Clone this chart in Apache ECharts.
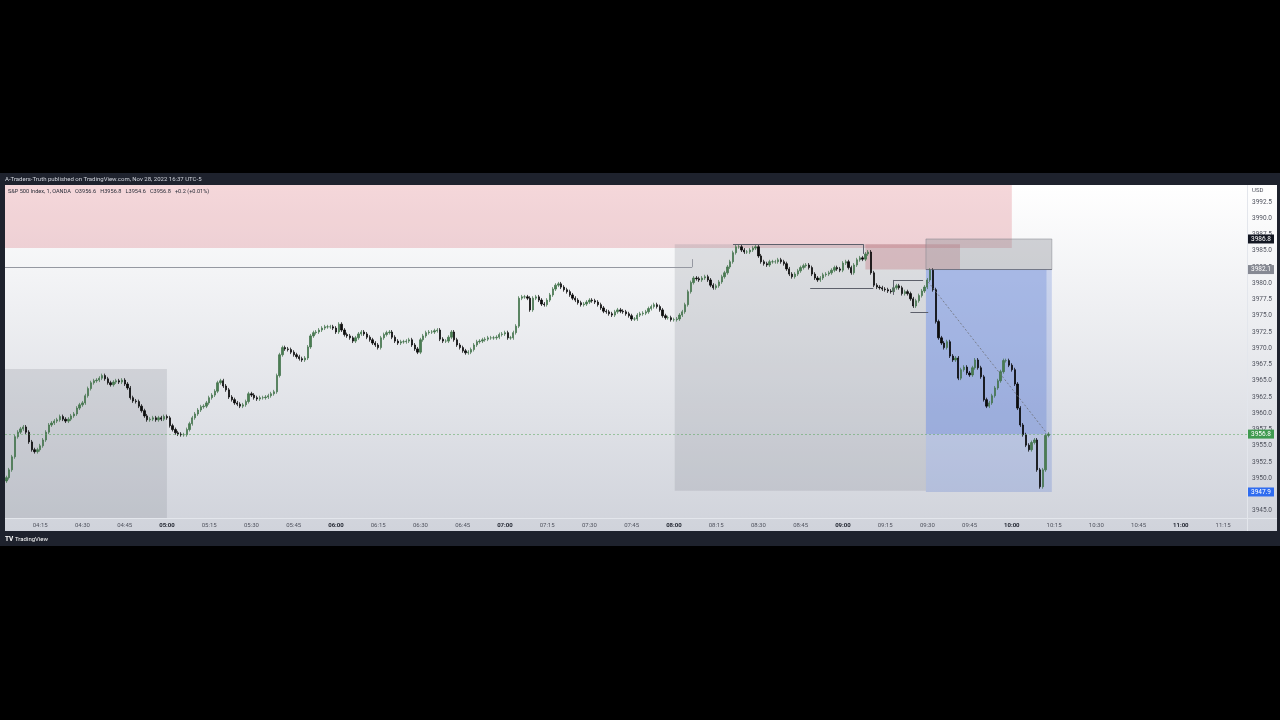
<!DOCTYPE html>
<html>
<head>
<meta charset="utf-8">
<title>S&amp;P 500 Index, 1, OANDA</title>
<script src="https://cdn.jsdelivr.net/npm/echarts@6.0.0/dist/echarts.min.js"></script>
<style>
  html, body { margin: 0; padding: 0; background: #000; }
  #chart { width: 1280px; height: 720px; }
</style>
</head>
<body>
<div id="chart"></div>
<script>
// ---------- data ----------
const startMinute = 243;          // first bar 04:03 (minutes after midnight)
const firstOpen = 3949.6;
const closes = [
  3950.1, 3951.3, 3953.3, 3956.4, 3957.1, 3957.6, 3957.9, 3957.1, 3955.6, 3954.4,
  3954.1, 3954.4, 3955.0, 3955.9, 3957.1, 3958.2, 3958.5, 3958.8, 3959.0, 3959.5,
  3959.1, 3958.8, 3959.1, 3959.6, 3959.9, 3960.8, 3961.3, 3961.6, 3962.7, 3963.8,
  3964.7, 3965.0, 3965.1, 3965.4, 3965.8, 3965.3, 3964.7, 3964.4, 3964.8, 3965.0,
  3964.8, 3965.1, 3964.5, 3963.9, 3962.4, 3961.9, 3961.8, 3961.1, 3960.4, 3959.6,
  3959.0, 3959.1, 3959.3, 3959.0, 3959.3, 3959.1, 3959.5, 3959.3, 3958.1, 3957.5,
  3957.0, 3956.8, 3956.7, 3956.7, 3957.5, 3958.4, 3959.3, 3959.9, 3960.5, 3961.0,
  3961.1, 3961.6, 3962.4, 3962.8, 3963.4, 3964.7, 3965.0, 3964.2, 3963.6, 3962.5,
  3962.1, 3961.6, 3961.4, 3961.1, 3961.3, 3961.8, 3963.0, 3962.8, 3962.4, 3962.2,
  3962.4, 3962.4, 3962.5, 3962.7, 3963.0, 3963.3, 3965.8, 3969.0, 3970.1, 3969.9,
  3969.8, 3969.4, 3969.0, 3968.7, 3968.4, 3968.2, 3968.5, 3970.2, 3971.9, 3972.4,
  3972.5, 3972.8, 3973.1, 3973.3, 3973.3, 3973.3, 3973.1, 3972.5, 3973.7, 3972.8,
  3972.1, 3971.9, 3971.6, 3971.1, 3971.6, 3972.2, 3972.5, 3972.2, 3971.7, 3971.3,
  3970.8, 3970.5, 3970.1, 3971.6, 3972.1, 3972.4, 3972.5, 3971.7, 3971.1, 3970.8,
  3971.0, 3971.0, 3971.1, 3971.3, 3970.5, 3969.9, 3969.4, 3971.3, 3971.9, 3972.4,
  3972.5, 3972.5, 3972.7, 3972.8, 3971.4, 3971.1, 3971.1, 3971.7, 3972.5, 3971.3,
  3970.5, 3970.1, 3969.6, 3969.3, 3969.4, 3969.8, 3970.5, 3971.0, 3971.1, 3971.3,
  3971.4, 3971.6, 3971.6, 3971.6, 3971.7, 3972.1, 3972.2, 3972.4, 3971.6, 3971.6,
  3972.4, 3973.4, 3977.7, 3977.9, 3977.9, 3977.7, 3975.9, 3977.7, 3977.9, 3977.4,
  3976.8, 3976.7, 3977.4, 3978.2, 3979.1, 3979.7, 3979.9, 3979.4, 3979.0, 3978.7,
  3978.2, 3977.7, 3977.4, 3977.0, 3976.7, 3976.8, 3977.1, 3977.4, 3977.3, 3977.1,
  3976.7, 3976.2, 3975.7, 3975.6, 3975.3, 3975.1, 3975.6, 3975.9, 3975.7, 3975.6,
  3975.3, 3975.0, 3974.5, 3974.5, 3975.1, 3975.3, 3975.4, 3975.6, 3976.1, 3976.4,
  3976.7, 3976.4, 3975.9, 3975.0, 3974.7, 3974.7, 3974.4, 3974.4, 3974.5, 3975.1,
  3975.6, 3976.7, 3978.7, 3980.1, 3980.8, 3980.7, 3980.5, 3980.8, 3981.0, 3980.5,
  3979.7, 3979.3, 3979.6, 3980.2, 3981.0, 3981.6, 3982.5, 3983.3, 3984.7, 3985.6,
  3985.6, 3985.1, 3984.8, 3984.8, 3985.1, 3985.4, 3985.6, 3984.2, 3983.3, 3983.0,
  3982.8, 3983.3, 3983.3, 3983.3, 3983.6, 3983.3, 3983.0, 3982.2, 3981.4, 3981.0,
  3981.4, 3981.9, 3982.4, 3982.7, 3982.8, 3982.4, 3981.4, 3980.8, 3980.5, 3980.8,
  3981.3, 3981.4, 3981.6, 3982.0, 3982.4, 3982.2, 3982.0, 3983.1, 3983.3, 3982.4,
  3981.6, 3982.8, 3983.6, 3983.9, 3983.7, 3984.5, 3984.8, 3981.6, 3979.7, 3979.4,
  3979.3, 3979.1, 3979.0, 3978.8, 3978.7, 3979.3, 3979.6, 3979.3, 3978.4, 3978.7,
  3978.4, 3977.6, 3976.5, 3977.3, 3978.1, 3978.8, 3979.4, 3980.5, 3982.0, 3979.0,
  3974.1, 3971.6, 3970.8, 3970.1, 3971.0, 3968.8, 3968.2, 3968.5, 3965.4, 3966.7,
  3967.1, 3966.2, 3965.9, 3967.0, 3968.2, 3967.0, 3965.6, 3962.1, 3961.1, 3961.6,
  3962.7, 3963.9, 3965.0, 3966.4, 3968.1, 3968.1, 3967.4, 3966.7, 3964.5, 3960.8,
  3958.2, 3956.7, 3955.1, 3954.4, 3955.5, 3955.9, 3951.3, 3948.7, 3951.3, 3956.6,
  3956.8
];
const timeTickLabels = ['04:15','04:30','04:45','05:00','05:15','05:30','05:45','06:00',
  '06:15','06:30','06:45','07:00','07:15','07:30','07:45','08:00','08:15','08:30','08:45',
  '09:00','09:15','09:30','09:45','10:00','10:15','10:30','10:45','11:00','11:15'];
const priceTicks = [3945.0, 3947.5, 3950.0, 3952.5, 3955.0, 3957.5, 3960.0, 3962.5, 3965.0,
  3967.5, 3970.0, 3972.5, 3975.0, 3977.5, 3980.0, 3982.5, 3985.0, 3987.5, 3990.0, 3992.5];

const stopPrice = 3986.8, entryPrice = 3982.1, lastPrice = 3956.8, targetPrice = 3947.9;
const supplyLow = 3985.4, oldLevel = 3982.5;

// ---------- helpers ----------
const toMin = s => { const p = s.split(':'); return (+p[0]) * 60 + (+p[1]); };
const fmtMin = v => { const h = Math.floor(v / 60), m = Math.round(v % 60);
  return String(h).padStart(2, '0') + ':' + String(m).padStart(2, '0'); };
const WICK = 0.3;
const candles = closes.map((c, i) => {
  const o = i === 0 ? firstOpen : closes[i - 1];
  return [startMinute + i, o, c, Math.min(o, c) - WICK, Math.max(o, c) + WICK];
});

const X0 = 242.5, X1 = 683.5, Y0 = 3943.9, Y1 = 3995.1;
const FONT = 'Roboto, "Liberation Sans", sans-serif';

const gray = 'rgba(120,123,134,0.2)';
const seg = (x1, y1, x2, y2, color, width, type) => [
  { coord: [x1, y1], lineStyle: { color: color || '#5d606b', width: width || 1, type: type || 'solid' } },
  { coord: [x2, y2] }
];
const tag = (price, bg, line) => ({
  yAxis: price,
  lineStyle: line || { color: 'rgba(0,0,0,0)', width: 0 },
  label: {
    show: true, position: 'end', distance: 1, formatter: price.toFixed(1),
    backgroundColor: bg, color: '#ffffff', fontSize: 6.5, fontFamily: FONT,
    padding: [1, 3, 1, 3]
  }
});

const chart = echarts.init(document.getElementById('chart'));
chart.setOption({
  animation: false,
  backgroundColor: '#000000',
  grid: { left: 5, right: 33, top: 185, bottom: 202, containLabel: false },
  xAxis: {
    type: 'value', min: X0, max: X1,
    axisLine: { show: false }, axisTick: { show: false }, splitLine: { show: false },
    axisLabel: {
      customValues: timeTickLabels.map(toMin),
      margin: 4, fontSize: 6, color: '#50535e', fontFamily: FONT,
      formatter: v => (v % 60 === 0 ? '{b|' + fmtMin(v) + '}' : fmtMin(v)),
      rich: { b: { fontWeight: 'bold', fontSize: 6, color: '#1e222d', fontFamily: FONT } }
    }
  },
  yAxis: {
    type: 'value', position: 'right', min: Y0, max: Y1, scale: true,
    axisLine: { show: false }, axisTick: { show: false }, splitLine: { show: false },
    axisLabel: {
      customValues: priceTicks, margin: 5, fontSize: 6.5, color: '#50535e', fontFamily: FONT,
      formatter: v => v.toFixed(1)
    }
  },
  graphic: [
    { type: 'rect', z: -100, shape: { x: 0, y: 173, width: 1280, height: 12 }, style: { fill: '#1e222d' } },
    { type: 'rect', z: -100, shape: { x: 0, y: 185, width: 1280, height: 361 }, style: { fill: '#1e222d' } },
    { type: 'rect', z: -99, shape: { x: 5, y: 185, width: 1272, height: 346 },
      style: { fill: { type: 'linear', x: 0, y: 0, x2: 0, y2: 1,
        colorStops: [{ offset: 0, color: '#ffffff' }, { offset: 1, color: '#d0d3db' }] } } },
    { type: 'line', z: -98, shape: { x1: 5, y1: 518.5, x2: 1277, y2: 518.5 }, style: { stroke: '#e3e6ec', lineWidth: 1 } },
    { type: 'line', z: -98, shape: { x1: 1247.5, y1: 185, x2: 1247.5, y2: 531 }, style: { stroke: '#e3e6ec', lineWidth: 1 } },
    { type: 'text', z: 100, x: 5, y: 179.5,
      style: { text: 'A-Traders-Truth published on TradingView.com, Nov 28, 2022 16:37 UTC-5',
        fill: '#d1d4dc', fontSize: 6, fontFamily: FONT, verticalAlign: 'middle' } },
    { type: 'text', z: 100, x: 8, y: 191.5,
      style: { text: 'S&P 500 Index, 1, OANDA   O3956.6   H3956.8   L3954.6   C3956.8   +0.2 (+0.01%)',
        fill: '#2a2e39', fontSize: 5.6, fontFamily: FONT, verticalAlign: 'middle' } },
    { type: 'text', z: 100, x: 1252, y: 190.5,
      style: { text: 'USD', fill: '#50535e', fontSize: 6, fontFamily: FONT, verticalAlign: 'middle' } },
    { type: 'text', z: 100, x: 5, y: 539.5,
      style: { text: 'TV', fill: '#ffffff', fontSize: 6.5, fontWeight: 'bold', fontFamily: FONT, verticalAlign: 'middle' } },
    { type: 'text', z: 100, x: 15, y: 539.5,
      style: { text: 'TradingView', fill: '#ffffff', fontSize: 6, fontFamily: FONT, verticalAlign: 'middle' } }
  ],
  series: [{
    type: 'candlestick',
    data: candles,
    encode: { x: 0, y: [1, 2, 3, 4] },
    barWidth: 1.8,
    itemStyle: {
      color: '#4a7d52', color0: '#0d0d0d',
      borderColor: '#3f7047', borderColor0: '#000000', borderWidth: 0.7
    },
    markArea: {
      silent: true,
      data: [
        // supply zone
        [{ xAxis: X0, yAxis: Y1, itemStyle: { color: 'rgba(205,55,70,0.2)' } }, { xAxis: 600, yAxis: supplyLow }],
        // 04:00 range box
        [{ xAxis: X0, yAxis: 3966.8, itemStyle: { color: gray } }, { xAxis: 300, yAxis: Y0 }],
        // 08:00 - 09:30 range box
        [{ xAxis: 480.3, yAxis: 3986.0, itemStyle: { color: gray } }, { xAxis: 569.5, yAxis: 3948.1 }],
        // red box
        [{ xAxis: 548.0, yAxis: 3986.0, itemStyle: { color: 'rgba(178,40,51,0.2)' } }, { xAxis: 581.6, yAxis: entryPrice }],
        // position tool: stop zone
        [{ xAxis: 569.5, yAxis: stopPrice, itemStyle: { color: 'rgba(120,123,134,0.32)', borderColor: 'rgba(120,122,130,0.45)', borderWidth: 1 } },
         { xAxis: 614.2, yAxis: entryPrice }],
        // position tool: target zone
        [{ xAxis: 569.5, yAxis: entryPrice, itemStyle: { color: 'rgba(70,110,210,0.24)' } }, { xAxis: 614.2, yAxis: targetPrice }],
        // realised part
        [{ xAxis: 569.5, yAxis: entryPrice, itemStyle: { color: 'rgba(70,110,210,0.26)' } }, { xAxis: 612.3, yAxis: lastPrice }]
      ]
    },
    markLine: {
      silent: true, symbol: ['none', 'none'],
      label: { show: false },
      data: [
        seg(X0, oldLevel, 486.5, oldLevel, '#9598a1', 1.2),
        seg(486.5, oldLevel, 486.5, 3983.7, '#9598a1', 1),
        seg(501.0, 3986.0, 547.2, 3986.0, '#5d606b', 1),
        seg(547.2, 3986.0, 547.2, 3984.5, '#5d606b', 1),
        seg(528.4, 3979.3, 550.8, 3979.3, '#5d606b', 1),
        seg(557.8, 3980.5, 568.5, 3980.5, '#5d606b', 1),
        seg(558.0, 3980.5, 558.0, 3978.2, '#5d606b', 1),
        seg(564.0, 3975.6, 570.3, 3975.6, '#5d606b', 1),
        seg(569.5, entryPrice, 614.2, entryPrice, 'rgba(90,92,100,0.6)', 1),
        seg(570.3, 3980.2, 612.5, 3956.9, 'rgba(110,112,120,0.8)', 1, [2, 2]),
        tag(stopPrice, '#131722'),
        tag(entryPrice, '#868993'),
        tag(lastPrice, '#3f9a4f', { color: 'rgba(76,160,80,0.6)', width: 0.8, type: [2, 2] }),
        tag(targetPrice, '#2f6cf0')
      ]
    }
  }]
});
</script>
</body>
</html>
